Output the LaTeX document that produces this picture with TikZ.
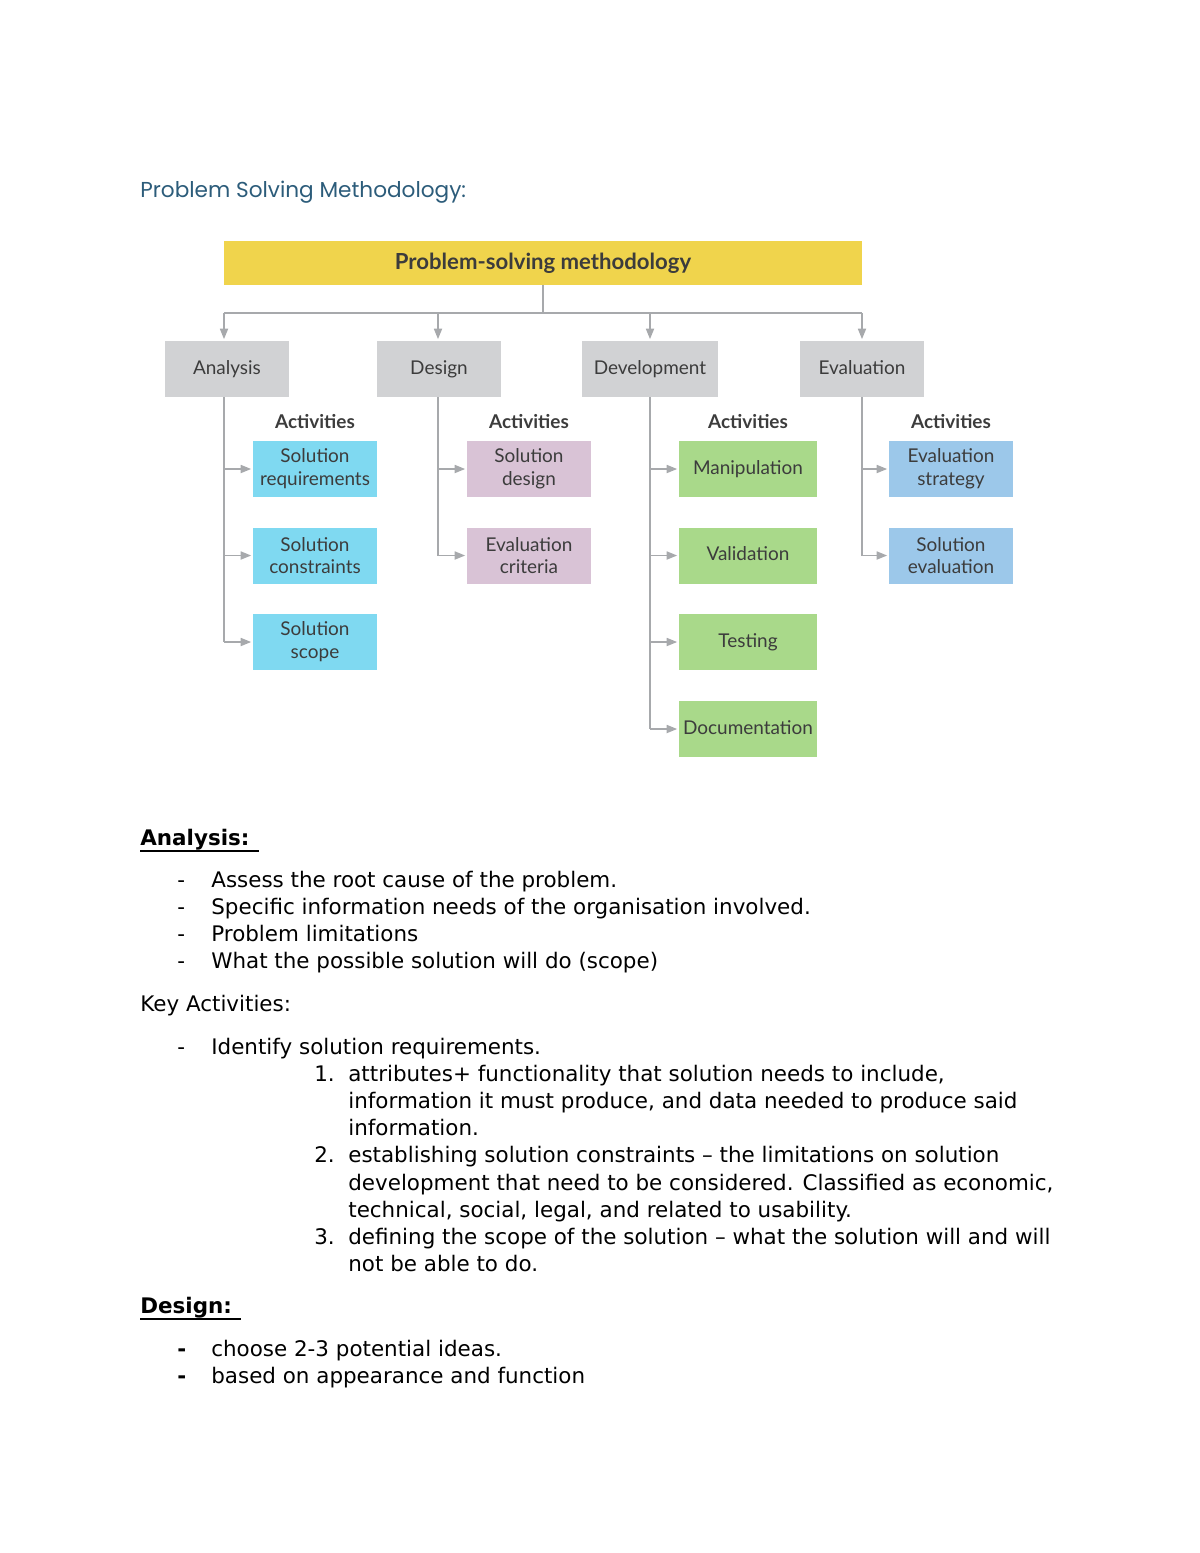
\documentclass[tikz,border=0pt]{standalone}
\usepackage{fontspec}
\setmainfont{DejaVu Sans}
\newfontfamily\diagfont{Lato}
\newfontfamily\titlefont{Poppins}
\usetikzlibrary{arrows.meta}

\definecolor{pmyellow}{HTML}{F0D44C}
\definecolor{phasegray}{HTML}{D1D2D4}
\definecolor{anacyan}{HTML}{7FD9F1}
\definecolor{desmauve}{HTML}{D9C3D6}
\definecolor{devgreen}{HTML}{A9D98A}
\definecolor{evablue}{HTML}{9CC8EA}
\definecolor{linegray}{HTML}{A7A9AC}
\definecolor{boxtext}{HTML}{3C3C3C}
\definecolor{titleblue}{HTML}{2C5C7A}

\tikzset{
  phase/.style={fill=phasegray, minimum width=2.48cm, minimum height=1.12cm, text height=8pt, text depth=2.3pt, text=boxtext, font=\diagfont\fontsize{10.8}{13}\selectfont},
  act/.style={minimum width=2.48cm, minimum height=1.12cm, inner xsep=1pt, align=center, text=boxtext, font=\diagfont\fontsize{10.8}{13}\selectfont},
  oneline/.style={text height=8pt, text depth=2.3pt},
  actlabel/.style={text=boxtext, font=\diagfont\bfseries\fontsize{10.8}{13}\selectfont},
  link/.style={draw=linegray, line width=1.1pt},
  tip/.style={-{Triangle[length=6pt,width=4.5pt]}, shorten >=0.8pt},
  line/.style={anchor=base west, inner sep=0pt, font=\fontsize{12.2}{15}\selectfont},
}

\begin{document}
\begin{tikzpicture}[x=0.02cm, y=-0.02cm]

  \useasboundingbox (0,0) rectangle (1200,1553);

  % heading
  \node[anchor=base west, inner sep=0pt, text=titleblue, font=\titlefont\fontsize{12.3}{14}\selectfont] (title) at (140,197) {Problem Solving Methodology:};

  % top of the chart
  \node[fill=pmyellow, minimum width=12.76cm, minimum height=0.88cm, text=boxtext, font=\diagfont\bfseries\fontsize{12.6}{15}\selectfont] (pm) at (543,263) {Problem-solving methodology};

  \node[phase] (ana) at (227,369) {Analysis};
  \node[phase] (des) at (439,369) {Design};
  \node[phase, minimum width=2.72cm] (dev) at (650,369) {Development};
  \node[phase] (eva) at (862,369) {Evaluation};

  \coordinate (busL) at (224,313);
  \coordinate (busD) at (438,313);
  \coordinate (busV) at (650,313);
  \coordinate (busR) at (862,313);

  \draw[link] (pm.south) -- (pm.south |- busL);
  \draw[link] (busL) -- (busR);
  \draw[link,tip] (busL) -- (busL |- ana.north);
  \draw[link,tip] (busD) -- (busD |- des.north);
  \draw[link,tip] (busV) -- (busV |- dev.north);
  \draw[link,tip] (busR) -- (busR |- eva.north);

  % activity headings
  \node[actlabel] (anaL) at (315,422) {Activities};
  \node[actlabel] (desL) at (529,422) {Activities};
  \node[actlabel] (devL) at (748,422) {Activities};
  \node[actlabel] (evaL) at (951,422) {Activities};

  % analysis
  \node[act, fill=anacyan] (req) at (315,469) {Solution\\requirements};
  \node[act, fill=anacyan] (con) at (315,555.5) {Solution\\constraints};
  \node[act, fill=anacyan] (sco) at (315,642) {Solution\\scope};

  % design
  \node[act, fill=desmauve] (sdes) at (529,469) {Solution\\design};
  \node[act, fill=desmauve] (crit) at (529,555.5) {Evaluation\\criteria};

  % development
  \begin{scope}[every node/.style={act, oneline, fill=devgreen, minimum width=2.76cm}]
    \node (man) at (748,469) {Manipulation};
    \node (val) at (748,555.5) {Validation};
    \node (tes) at (748,642) {Testing};
    \node (doc) at (748,729) {Documentation};
  \end{scope}

  % evaluation
  \node[act, fill=evablue] (strat) at (951,469) {Evaluation\\strategy};
  \node[act, fill=evablue] (seva) at (951,555.5) {Solution\\evaluation};

  % trunks and branches
  \draw[link] (busL |- ana.south) -- (busL |- sco.west);
  \foreach \n in {req,con,sco}
    \draw[link,tip] (busL |- \n.west) -- (\n.west);

  \draw[link] (busD |- des.south) -- (busD |- crit.west);
  \foreach \n in {sdes,crit}
    \draw[link,tip] (busD |- \n.west) -- (\n.west);

  \draw[link] (busV |- dev.south) -- (busV |- doc.west);
  \foreach \n in {man,val,tes,doc}
    \draw[link,tip] (busV |- \n.west) -- (\n.west);

  \draw[link] (busR |- eva.south) -- (busR |- seva.west);
  \foreach \n in {strat,seva}
    \draw[link,tip] (busR |- \n.west) -- (\n.west);

  % notes
  \node[line, font=\bfseries\fontsize{12.2}{15}\selectfont] (hAna) at (140,845) {Analysis:};
  \draw[line width=0.8pt] ([yshift=-3.5pt]hAna.base west) -- ++(119,0);

  \foreach \y/\t in {887/Assess the root cause of the problem.,
                     914/Specific information needs of the organisation involved.,
                     941/Problem limitations,
                     968/What the possible solution will do (scope)} {
    \node[line] at (177,\y) {-};
    \node[line] at (211,\y) {\t};
  }

  \node[line] (key) at (140,1011) {Key Activities:};
  \node[line] at (177,1054) {-};
  \node[line] at (211,1054) {Identify solution requirements.};

  \node[line] at (314,1081) {1.};
  \node[line] at (348,1081) {attributes+ functionality that solution needs to include,};
  \node[line] at (348,1108) {information it must produce, and data needed to produce said};
  \node[line] at (348,1135) {information.};
  \node[line] at (314,1162) {2.};
  \node[line] at (348,1162) {establishing solution constraints – the limitations on solution};
  \node[line] at (348,1190) {development that need to be considered. Classified as economic,};
  \node[line] at (348,1217) {technical, social, legal, and related to usability.};
  \node[line] at (314,1244) {3.};
  \node[line] at (348,1244) {defining the scope of the solution – what the solution will and will};
  \node[line] at (348,1271) {not be able to do.};

  \node[line, font=\bfseries\fontsize{12.2}{15}\selectfont] (hDes) at (140,1313) {Design:};
  \draw[line width=0.8pt] ([yshift=-3.5pt]hDes.base west) -- ++(101,0);

  \node[line, font=\bfseries\fontsize{12.2}{15}\selectfont] at (177,1356) {-};
  \node[line] at (211,1356) {choose 2-3 potential ideas.};
  \node[line, font=\bfseries\fontsize{12.2}{15}\selectfont] at (177,1383) {-};
  \node[line] at (211,1383) {based on appearance and function};

\end{tikzpicture}
\end{document}
